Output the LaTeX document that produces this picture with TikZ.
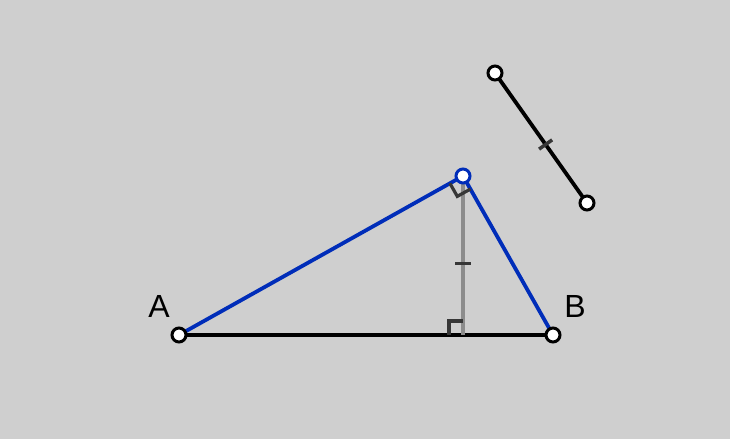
\documentclass[tikz,border=0pt]{standalone}
\usepackage{fontspec}
\setmainfont{Liberation Sans}
\usetikzlibrary{calc}
\definecolor{bg}{RGB}{207,207,207}
\definecolor{tblue}{RGB}{0,45,185}
\definecolor{hgray}{RGB}{140,140,140}
\definecolor{markc}{RGB}{55,55,55}
\begin{document}
\begin{tikzpicture}[x=1pt,y=-1pt,
  ptnode/.style={circle,draw=black,fill=white,line width=3pt,minimum size=14pt,inner sep=0pt},
  blueline/.style={draw=tblue,line width=3.8pt},
  blackline/.style={draw=black,line width=3.8pt},
  heightline/.style={draw=hgray,line width=3.2pt},
  tickmark/.style={draw=markc,line width=3.5pt},
  rightmark/.style={draw=markc,line width=3.2pt,line join=miter},
  lbl/.style={font=\fontsize{32}{38}\selectfont,text=black,inner sep=0pt}]
\fill[bg] (0,0) rectangle (730,439);
\useasboundingbox (0,0) rectangle (730,439);
% points
\coordinate (A) at (179,335);
\coordinate (B) at (553,335);
\coordinate (C) at (463,176);
\coordinate (H) at (463,335);
\coordinate (P) at (495,73);
\coordinate (Q) at (587,203);
% lines
\draw[blackline] (A) -- (B);
\draw[blackline] (P) -- (Q);
\draw[heightline] (C) -- (H);
\draw[blueline] (A) -- (C) -- (B);
% tick marks
\coordinate (M1) at ($(P)!0.55!(Q)$);
\draw[tickmark] ($(M1)!8pt!90:(Q)$) -- ($(M1)!8pt!-90:(Q)$);
\coordinate (M2) at ($(C)!0.55!(H)$);
\draw[tickmark] ($(M2)+(-8,0)$) -- ($(M2)+(8,0)$);
% right angle marks
\draw[rightmark] ($(C)!15pt!(A)$) -- ($(C)!15pt!(A)+(C)!15pt!(B)-(C)$) -- ($(C)!15pt!(B)$);
\draw[rightmark] ($(H)+(-14,0)$) -- ($(H)+(-14,-14)$) -- ($(H)+(0,-14)$);
% point markers
\node[ptnode] (nA) at (A) {};
\node[ptnode] (nB) at (B) {};
\node[ptnode,draw=tblue] (nC) at (C) {};
\node[ptnode] (nP) at (P) {};
\node[ptnode] (nQ) at (Q) {};
% labels
\node[lbl] (lA) at (159,306) {A};
\node[lbl] (lB) at (575,306) {B};
\end{tikzpicture}
\end{document}
